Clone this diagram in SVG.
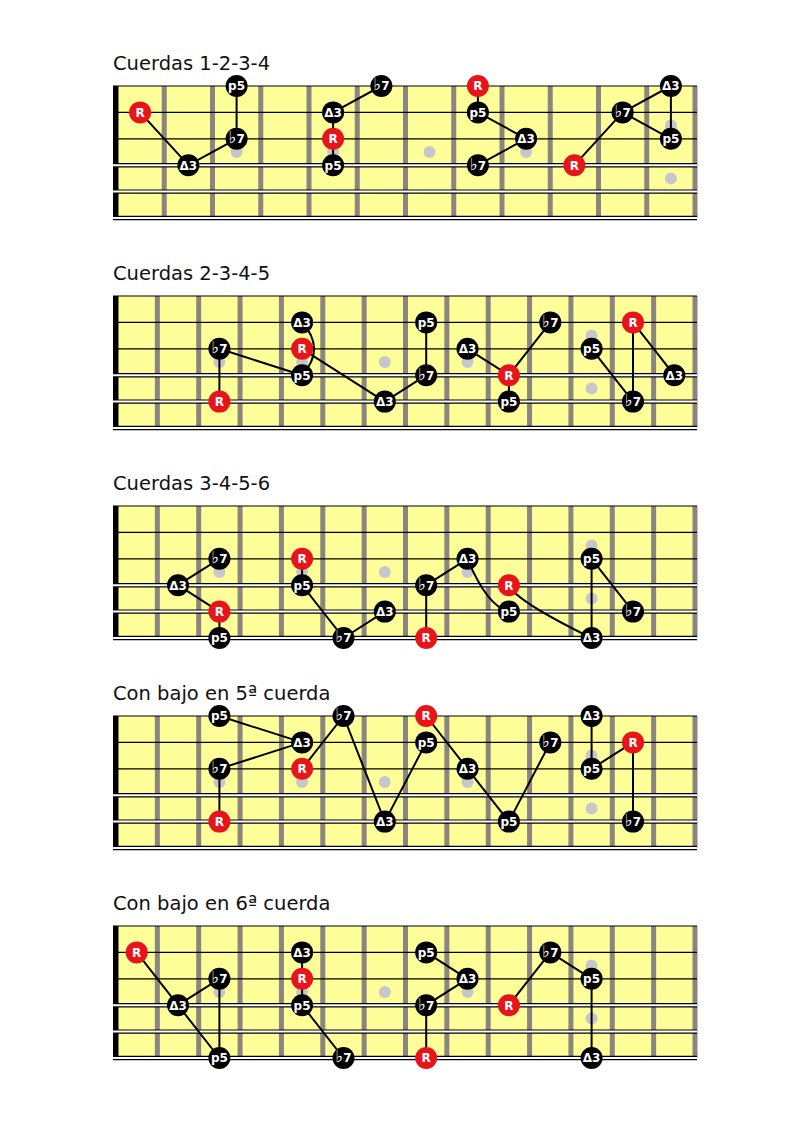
<svg xmlns="http://www.w3.org/2000/svg" xmlns:xlink="http://www.w3.org/1999/xlink" width="792" height="1122" viewBox="0 0 792 1122">
<style>
.title{font-family:"DejaVu Sans","Liberation Sans",sans-serif;font-size:19.5px;fill:#111}
.bg{fill:#ffff99}
.nut{fill:#000}
.fret{fill:#8a857e}
.dot{fill:#c6c6cd}
.sthin{stroke:#000;stroke-width:1.2}
.sthick{stroke:#000;stroke-width:4.4}
.sthin2{stroke:#fff;stroke-width:2}
.conn{stroke:#000;stroke-width:2;fill:none}
.blk{fill:#000}
.red{fill:#e8141a}
.lbl{font-family:"DejaVu Sans","Liberation Sans",sans-serif;font-size:12px;font-weight:bold;fill:#fff;text-anchor:middle}
.fl{font-size:17px;font-weight:bold}
</style>
<defs>
<g id="strings">
<line class="sthin" x1="113" y1="0" x2="697" y2="0"/>
<line class="sthin" x1="113" y1="26.4" x2="697" y2="26.4"/>
<line class="sthin" x1="113" y1="52.8" x2="697" y2="52.8"/>
<line class="sthick" x1="113" y1="79.2" x2="697" y2="79.2"/>
<line class="sthin2" x1="113" y1="79.2" x2="697" y2="79.2"/>
<line class="sthick" x1="113" y1="105.6" x2="697" y2="105.6"/>
<line class="sthin2" x1="113" y1="105.6" x2="697" y2="105.6"/>
<line class="sthick" x1="113" y1="132" x2="697" y2="132"/>
<line class="sthin2" x1="113" y1="132" x2="697" y2="132"/>
</g>
<g id="fb12">
<rect class="bg" x="113" y="0" width="584" height="132"/>
<rect class="nut" x="113" y="0" width="5.5" height="132"/>
<rect class="fret" x="161.75" y="0" width="5" height="132"/>
<rect class="fret" x="210" y="0" width="5" height="132"/>
<rect class="fret" x="258.25" y="0" width="5" height="132"/>
<rect class="fret" x="306.5" y="0" width="5" height="132"/>
<rect class="fret" x="354.75" y="0" width="5" height="132"/>
<rect class="fret" x="403" y="0" width="5" height="132"/>
<rect class="fret" x="451.25" y="0" width="5" height="132"/>
<rect class="fret" x="499.5" y="0" width="5" height="132"/>
<rect class="fret" x="547.75" y="0" width="5" height="132"/>
<rect class="fret" x="596" y="0" width="5" height="132"/>
<rect class="fret" x="644.25" y="0" width="5" height="132"/>
<rect class="fret" x="692.5" y="0" width="5" height="132"/>
<circle class="dot" cx="236.6" cy="66" r="6"/>
<circle class="dot" cx="333.1" cy="66" r="6"/>
<circle class="dot" cx="429.6" cy="66" r="6"/>
<circle class="dot" cx="526.1" cy="66" r="6"/>
<circle class="dot" cx="670.9" cy="39.6" r="6"/>
<circle class="dot" cx="670.9" cy="92.4" r="6"/>
<use xlink:href="#strings"/>
</g>
<g id="fb14">
<rect class="bg" x="113" y="0" width="584" height="132"/>
<rect class="nut" x="113" y="0" width="5.5" height="132"/>
<rect class="fret" x="154.86" y="0" width="5" height="132"/>
<rect class="fret" x="196.21" y="0" width="5" height="132"/>
<rect class="fret" x="237.57" y="0" width="5" height="132"/>
<rect class="fret" x="278.93" y="0" width="5" height="132"/>
<rect class="fret" x="320.29" y="0" width="5" height="132"/>
<rect class="fret" x="361.64" y="0" width="5" height="132"/>
<rect class="fret" x="403" y="0" width="5" height="132"/>
<rect class="fret" x="444.36" y="0" width="5" height="132"/>
<rect class="fret" x="485.71" y="0" width="5" height="132"/>
<rect class="fret" x="527.07" y="0" width="5" height="132"/>
<rect class="fret" x="568.43" y="0" width="5" height="132"/>
<rect class="fret" x="609.79" y="0" width="5" height="132"/>
<rect class="fret" x="651.14" y="0" width="5" height="132"/>
<rect class="fret" x="692.5" y="0" width="5" height="132"/>
<circle class="dot" cx="219.4" cy="66" r="6"/>
<circle class="dot" cx="302.1" cy="66" r="6"/>
<circle class="dot" cx="384.8" cy="66" r="6"/>
<circle class="dot" cx="467.5" cy="66" r="6"/>
<circle class="dot" cx="591.6" cy="39.6" r="6"/>
<circle class="dot" cx="591.6" cy="92.4" r="6"/>
<use xlink:href="#strings"/>
</g>
</defs>

<!-- Diagram 1 -->
<g id="diagram1" transform="translate(0,86)">
<text class="title" x="113" y="-16">Cuerdas 1-2-3-4</text>
<use xlink:href="#fb12"/>
<g id="d1-connectors">
<line class="conn" x1="140.1" y1="26.4" x2="188.4" y2="79.2"/>
<line class="conn" x1="188.4" y1="79.2" x2="236.6" y2="52.8"/>
<line class="conn" x1="236.6" y1="52.8" x2="236.6" y2="0"/>
<line class="conn" x1="333.1" y1="79.2" x2="333.1" y2="26.4"/>
<line class="conn" x1="333.1" y1="26.4" x2="381.4" y2="0"/>
<line class="conn" x1="477.9" y1="0" x2="477.9" y2="26.4"/>
<line class="conn" x1="477.9" y1="26.4" x2="526.1" y2="52.8"/>
<line class="conn" x1="526.1" y1="52.8" x2="477.9" y2="79.2"/>
<line class="conn" x1="574.4" y1="79.2" x2="622.6" y2="26.4"/>
<line class="conn" x1="622.6" y1="26.4" x2="670.9" y2="0"/>
<line class="conn" x1="670.9" y1="0" x2="670.9" y2="52.8"/>
<line class="conn" x1="622.6" y1="26.4" x2="670.9" y2="52.8"/>
</g>
<g id="d1-n1"><circle class="red" cx="140.1" cy="26.4" r="11"/><text class="lbl" x="140.1" y="30.7">R</text></g>
<g id="d1-n2"><circle class="blk" cx="188.4" cy="79.2" r="11"/><text class="lbl" x="188.4" y="83.5">Δ3</text></g>
<g id="d1-n3"><circle class="blk" cx="236.6" cy="52.8" r="11"/><text class="lbl" x="236.6" y="57.1"><tspan class="fl">♭</tspan>7</text></g>
<g id="d1-n4"><circle class="blk" cx="236.6" cy="0" r="11"/><text class="lbl" x="236.6" y="4.3">p5</text></g>
<g id="d1-n5"><circle class="blk" cx="333.1" cy="26.4" r="11"/><text class="lbl" x="333.1" y="30.7">Δ3</text></g>
<g id="d1-n6"><circle class="red" cx="333.1" cy="52.8" r="11"/><text class="lbl" x="333.1" y="57.1">R</text></g>
<g id="d1-n7"><circle class="blk" cx="333.1" cy="79.2" r="11"/><text class="lbl" x="333.1" y="83.5">p5</text></g>
<g id="d1-n8"><circle class="blk" cx="381.4" cy="0" r="11"/><text class="lbl" x="381.4" y="4.3"><tspan class="fl">♭</tspan>7</text></g>
<g id="d1-n9"><circle class="red" cx="477.9" cy="0" r="11"/><text class="lbl" x="477.9" y="4.3">R</text></g>
<g id="d1-n10"><circle class="blk" cx="477.9" cy="26.4" r="11"/><text class="lbl" x="477.9" y="30.7">p5</text></g>
<g id="d1-n11"><circle class="blk" cx="526.1" cy="52.8" r="11"/><text class="lbl" x="526.1" y="57.1">Δ3</text></g>
<g id="d1-n12"><circle class="blk" cx="477.9" cy="79.2" r="11"/><text class="lbl" x="477.9" y="83.5"><tspan class="fl">♭</tspan>7</text></g>
<g id="d1-n13"><circle class="red" cx="574.4" cy="79.2" r="11"/><text class="lbl" x="574.4" y="83.5">R</text></g>
<g id="d1-n14"><circle class="blk" cx="622.6" cy="26.4" r="11"/><text class="lbl" x="622.6" y="30.7"><tspan class="fl">♭</tspan>7</text></g>
<g id="d1-n15"><circle class="blk" cx="670.9" cy="0" r="11"/><text class="lbl" x="670.9" y="4.3">Δ3</text></g>
<g id="d1-n16"><circle class="blk" cx="670.9" cy="52.8" r="11"/><text class="lbl" x="670.9" y="57.1">p5</text></g>
</g>

<!-- Diagram 2 -->
<g id="diagram2" transform="translate(0,296)">
<text class="title" x="113" y="-16">Cuerdas 2-3-4-5</text>
<use xlink:href="#fb14"/>
<g id="d2-connectors">
<line class="conn" x1="219.4" y1="105.6" x2="219.4" y2="52.8"/>
<line class="conn" x1="219.4" y1="52.8" x2="302.1" y2="79.2"/>
<path class="conn" d="M302.1,79.2 Q326,52.8 302.1,26.4"/>
<line class="conn" x1="302.1" y1="52.8" x2="384.8" y2="105.6"/>
<line class="conn" x1="384.8" y1="105.6" x2="426.2" y2="79.2"/>
<line class="conn" x1="426.2" y1="79.2" x2="426.2" y2="26.4"/>
<line class="conn" x1="467.5" y1="52.8" x2="508.9" y2="79.2"/>
<line class="conn" x1="508.9" y1="79.2" x2="508.9" y2="105.6"/>
<line class="conn" x1="508.9" y1="79.2" x2="550.3" y2="26.4"/>
<line class="conn" x1="591.6" y1="52.8" x2="633" y2="105.6"/>
<line class="conn" x1="633" y1="26.4" x2="633" y2="105.6"/>
<line class="conn" x1="633" y1="26.4" x2="674.3" y2="79.2"/>
</g>
<g id="d2-n1"><circle class="blk" cx="219.4" cy="52.8" r="11"/><text class="lbl" x="219.4" y="57.1"><tspan class="fl">♭</tspan>7</text></g>
<g id="d2-n2"><circle class="red" cx="219.4" cy="105.6" r="11"/><text class="lbl" x="219.4" y="109.9">R</text></g>
<g id="d2-n3"><circle class="blk" cx="302.1" cy="79.2" r="11"/><text class="lbl" x="302.1" y="83.5">p5</text></g>
<g id="d2-n4"><circle class="blk" cx="302.1" cy="26.4" r="11"/><text class="lbl" x="302.1" y="30.7">Δ3</text></g>
<g id="d2-n5"><circle class="red" cx="302.1" cy="52.8" r="11"/><text class="lbl" x="302.1" y="57.1">R</text></g>
<g id="d2-n6"><circle class="blk" cx="384.8" cy="105.6" r="11"/><text class="lbl" x="384.8" y="109.9">Δ3</text></g>
<g id="d2-n7"><circle class="blk" cx="426.2" cy="79.2" r="11"/><text class="lbl" x="426.2" y="83.5"><tspan class="fl">♭</tspan>7</text></g>
<g id="d2-n8"><circle class="blk" cx="426.2" cy="26.4" r="11"/><text class="lbl" x="426.2" y="30.7">p5</text></g>
<g id="d2-n9"><circle class="blk" cx="467.5" cy="52.8" r="11"/><text class="lbl" x="467.5" y="57.1">Δ3</text></g>
<g id="d2-n10"><circle class="red" cx="508.9" cy="79.2" r="11"/><text class="lbl" x="508.9" y="83.5">R</text></g>
<g id="d2-n11"><circle class="blk" cx="508.9" cy="105.6" r="11"/><text class="lbl" x="508.9" y="109.9">p5</text></g>
<g id="d2-n12"><circle class="blk" cx="550.3" cy="26.4" r="11"/><text class="lbl" x="550.3" y="30.7"><tspan class="fl">♭</tspan>7</text></g>
<g id="d2-n13"><circle class="blk" cx="591.6" cy="52.8" r="11"/><text class="lbl" x="591.6" y="57.1">p5</text></g>
<g id="d2-n14"><circle class="red" cx="633" cy="26.4" r="11"/><text class="lbl" x="633" y="30.7">R</text></g>
<g id="d2-n15"><circle class="blk" cx="633" cy="105.6" r="11"/><text class="lbl" x="633" y="109.9"><tspan class="fl">♭</tspan>7</text></g>
<g id="d2-n16"><circle class="blk" cx="674.3" cy="79.2" r="11"/><text class="lbl" x="674.3" y="83.5">Δ3</text></g>
</g>

<!-- Diagram 3 -->
<g id="diagram3" transform="translate(0,506)">
<text class="title" x="113" y="-16">Cuerdas 3-4-5-6</text>
<use xlink:href="#fb14"/>
<g id="d3-connectors">
<line class="conn" x1="219.4" y1="52.8" x2="178" y2="79.2"/>
<line class="conn" x1="178" y1="79.2" x2="219.4" y2="105.6"/>
<line class="conn" x1="219.4" y1="105.6" x2="219.4" y2="132"/>
<line class="conn" x1="302.1" y1="52.8" x2="302.1" y2="79.2"/>
<line class="conn" x1="302.1" y1="79.2" x2="343.5" y2="132"/>
<line class="conn" x1="343.5" y1="132" x2="384.8" y2="105.6"/>
<line class="conn" x1="426.2" y1="79.2" x2="426.2" y2="132"/>
<line class="conn" x1="426.2" y1="79.2" x2="467.5" y2="52.8"/>
<path class="conn" d="M467.5,52.8 Q487,100 508.9,105.6"/>
<path class="conn" d="M508.9,79.2 Q516,95 591.6,132"/>
<line class="conn" x1="591.6" y1="132" x2="591.6" y2="52.8"/>
<line class="conn" x1="591.6" y1="52.8" x2="633" y2="105.6"/>
</g>
<g id="d3-n1"><circle class="blk" cx="178" cy="79.2" r="11"/><text class="lbl" x="178" y="83.5">Δ3</text></g>
<g id="d3-n2"><circle class="blk" cx="219.4" cy="52.8" r="11"/><text class="lbl" x="219.4" y="57.1"><tspan class="fl">♭</tspan>7</text></g>
<g id="d3-n3"><circle class="red" cx="219.4" cy="105.6" r="11"/><text class="lbl" x="219.4" y="109.9">R</text></g>
<g id="d3-n4"><circle class="blk" cx="219.4" cy="132" r="11"/><text class="lbl" x="219.4" y="136.3">p5</text></g>
<g id="d3-n5"><circle class="red" cx="302.1" cy="52.8" r="11"/><text class="lbl" x="302.1" y="57.1">R</text></g>
<g id="d3-n6"><circle class="blk" cx="302.1" cy="79.2" r="11"/><text class="lbl" x="302.1" y="83.5">p5</text></g>
<g id="d3-n7"><circle class="blk" cx="343.5" cy="132" r="11"/><text class="lbl" x="343.5" y="136.3"><tspan class="fl">♭</tspan>7</text></g>
<g id="d3-n8"><circle class="blk" cx="384.8" cy="105.6" r="11"/><text class="lbl" x="384.8" y="109.9">Δ3</text></g>
<g id="d3-n9"><circle class="blk" cx="426.2" cy="79.2" r="11"/><text class="lbl" x="426.2" y="83.5"><tspan class="fl">♭</tspan>7</text></g>
<g id="d3-n10"><circle class="red" cx="426.2" cy="132" r="11"/><text class="lbl" x="426.2" y="136.3">R</text></g>
<g id="d3-n11"><circle class="blk" cx="467.5" cy="52.8" r="11"/><text class="lbl" x="467.5" y="57.1">Δ3</text></g>
<g id="d3-n12"><circle class="blk" cx="508.9" cy="105.6" r="11"/><text class="lbl" x="508.9" y="109.9">p5</text></g>
<g id="d3-n13"><circle class="red" cx="508.9" cy="79.2" r="11"/><text class="lbl" x="508.9" y="83.5">R</text></g>
<g id="d3-n14"><circle class="blk" cx="591.6" cy="132" r="11"/><text class="lbl" x="591.6" y="136.3">Δ3</text></g>
<g id="d3-n15"><circle class="blk" cx="591.6" cy="52.8" r="11"/><text class="lbl" x="591.6" y="57.1">p5</text></g>
<g id="d3-n16"><circle class="blk" cx="633" cy="105.6" r="11"/><text class="lbl" x="633" y="109.9"><tspan class="fl">♭</tspan>7</text></g>
</g>

<!-- Diagram 4 -->
<g id="diagram4" transform="translate(0,716)">
<text class="title" x="113" y="-16">Con bajo en 5ª cuerda</text>
<use xlink:href="#fb14"/>
<g id="d4-connectors">
<line class="conn" x1="219.4" y1="0" x2="302.1" y2="26.4"/>
<line class="conn" x1="302.1" y1="26.4" x2="219.4" y2="52.8"/>
<line class="conn" x1="219.4" y1="52.8" x2="219.4" y2="105.6"/>
<line class="conn" x1="302.1" y1="52.8" x2="343.5" y2="0"/>
<line class="conn" x1="343.5" y1="0" x2="384.8" y2="105.6"/>
<line class="conn" x1="384.8" y1="105.6" x2="426.2" y2="26.4"/>
<line class="conn" x1="426.2" y1="0" x2="467.5" y2="52.8"/>
<line class="conn" x1="467.5" y1="52.8" x2="508.9" y2="105.6"/>
<line class="conn" x1="508.9" y1="105.6" x2="550.3" y2="26.4"/>
<line class="conn" x1="591.6" y1="0" x2="591.6" y2="52.8"/>
<line class="conn" x1="591.6" y1="52.8" x2="633" y2="26.4"/>
<line class="conn" x1="633" y1="26.4" x2="633" y2="105.6"/>
</g>
<g id="d4-n1"><circle class="blk" cx="219.4" cy="0" r="11"/><text class="lbl" x="219.4" y="4.3">p5</text></g>
<g id="d4-n2"><circle class="blk" cx="302.1" cy="26.4" r="11"/><text class="lbl" x="302.1" y="30.7">Δ3</text></g>
<g id="d4-n3"><circle class="blk" cx="219.4" cy="52.8" r="11"/><text class="lbl" x="219.4" y="57.1"><tspan class="fl">♭</tspan>7</text></g>
<g id="d4-n4"><circle class="red" cx="219.4" cy="105.6" r="11"/><text class="lbl" x="219.4" y="109.9">R</text></g>
<g id="d4-n5"><circle class="red" cx="302.1" cy="52.8" r="11"/><text class="lbl" x="302.1" y="57.1">R</text></g>
<g id="d4-n6"><circle class="blk" cx="343.5" cy="0" r="11"/><text class="lbl" x="343.5" y="4.3"><tspan class="fl">♭</tspan>7</text></g>
<g id="d4-n7"><circle class="blk" cx="384.8" cy="105.6" r="11"/><text class="lbl" x="384.8" y="109.9">Δ3</text></g>
<g id="d4-n8"><circle class="blk" cx="426.2" cy="26.4" r="11"/><text class="lbl" x="426.2" y="30.7">p5</text></g>
<g id="d4-n9"><circle class="red" cx="426.2" cy="0" r="11"/><text class="lbl" x="426.2" y="4.3">R</text></g>
<g id="d4-n10"><circle class="blk" cx="467.5" cy="52.8" r="11"/><text class="lbl" x="467.5" y="57.1">Δ3</text></g>
<g id="d4-n11"><circle class="blk" cx="508.9" cy="105.6" r="11"/><text class="lbl" x="508.9" y="109.9">p5</text></g>
<g id="d4-n12"><circle class="blk" cx="550.3" cy="26.4" r="11"/><text class="lbl" x="550.3" y="30.7"><tspan class="fl">♭</tspan>7</text></g>
<g id="d4-n13"><circle class="blk" cx="591.6" cy="0" r="11"/><text class="lbl" x="591.6" y="4.3">Δ3</text></g>
<g id="d4-n14"><circle class="blk" cx="591.6" cy="52.8" r="11"/><text class="lbl" x="591.6" y="57.1">p5</text></g>
<g id="d4-n15"><circle class="red" cx="633" cy="26.4" r="11"/><text class="lbl" x="633" y="30.7">R</text></g>
<g id="d4-n16"><circle class="blk" cx="633" cy="105.6" r="11"/><text class="lbl" x="633" y="109.9"><tspan class="fl">♭</tspan>7</text></g>
</g>

<!-- Diagram 5 -->
<g id="diagram5" transform="translate(0,926)">
<text class="title" x="113" y="-16">Con bajo en 6ª cuerda</text>
<use xlink:href="#fb14"/>
<g id="d5-connectors">
<line class="conn" x1="136.7" y1="26.4" x2="178" y2="79.2"/>
<line class="conn" x1="178" y1="79.2" x2="219.4" y2="52.8"/>
<line class="conn" x1="178" y1="79.2" x2="219.4" y2="132"/>
<line class="conn" x1="219.4" y1="52.8" x2="219.4" y2="132"/>
<line class="conn" x1="302.1" y1="26.4" x2="302.1" y2="79.2"/>
<line class="conn" x1="302.1" y1="79.2" x2="343.5" y2="132"/>
<line class="conn" x1="426.2" y1="26.4" x2="467.5" y2="52.8"/>
<line class="conn" x1="467.5" y1="52.8" x2="426.2" y2="79.2"/>
<line class="conn" x1="426.2" y1="79.2" x2="426.2" y2="132"/>
<line class="conn" x1="508.9" y1="79.2" x2="550.3" y2="26.4"/>
<line class="conn" x1="550.3" y1="26.4" x2="591.6" y2="52.8"/>
<line class="conn" x1="591.6" y1="52.8" x2="591.6" y2="132"/>
</g>
<g id="d5-n1"><circle class="red" cx="136.7" cy="26.4" r="11"/><text class="lbl" x="136.7" y="30.7">R</text></g>
<g id="d5-n2"><circle class="blk" cx="178" cy="79.2" r="11"/><text class="lbl" x="178" y="83.5">Δ3</text></g>
<g id="d5-n3"><circle class="blk" cx="219.4" cy="52.8" r="11"/><text class="lbl" x="219.4" y="57.1"><tspan class="fl">♭</tspan>7</text></g>
<g id="d5-n4"><circle class="blk" cx="219.4" cy="132" r="11"/><text class="lbl" x="219.4" y="136.3">p5</text></g>
<g id="d5-n5"><circle class="blk" cx="302.1" cy="26.4" r="11"/><text class="lbl" x="302.1" y="30.7">Δ3</text></g>
<g id="d5-n6"><circle class="red" cx="302.1" cy="52.8" r="11"/><text class="lbl" x="302.1" y="57.1">R</text></g>
<g id="d5-n7"><circle class="blk" cx="302.1" cy="79.2" r="11"/><text class="lbl" x="302.1" y="83.5">p5</text></g>
<g id="d5-n8"><circle class="blk" cx="343.5" cy="132" r="11"/><text class="lbl" x="343.5" y="136.3"><tspan class="fl">♭</tspan>7</text></g>
<g id="d5-n9"><circle class="blk" cx="426.2" cy="26.4" r="11"/><text class="lbl" x="426.2" y="30.7">p5</text></g>
<g id="d5-n10"><circle class="blk" cx="467.5" cy="52.8" r="11"/><text class="lbl" x="467.5" y="57.1">Δ3</text></g>
<g id="d5-n11"><circle class="blk" cx="426.2" cy="79.2" r="11"/><text class="lbl" x="426.2" y="83.5"><tspan class="fl">♭</tspan>7</text></g>
<g id="d5-n12"><circle class="red" cx="426.2" cy="132" r="11"/><text class="lbl" x="426.2" y="136.3">R</text></g>
<g id="d5-n13"><circle class="red" cx="508.9" cy="79.2" r="11"/><text class="lbl" x="508.9" y="83.5">R</text></g>
<g id="d5-n14"><circle class="blk" cx="550.3" cy="26.4" r="11"/><text class="lbl" x="550.3" y="30.7"><tspan class="fl">♭</tspan>7</text></g>
<g id="d5-n15"><circle class="blk" cx="591.6" cy="52.8" r="11"/><text class="lbl" x="591.6" y="57.1">p5</text></g>
<g id="d5-n16"><circle class="blk" cx="591.6" cy="132" r="11"/><text class="lbl" x="591.6" y="136.3">Δ3</text></g>
</g>
</svg>
